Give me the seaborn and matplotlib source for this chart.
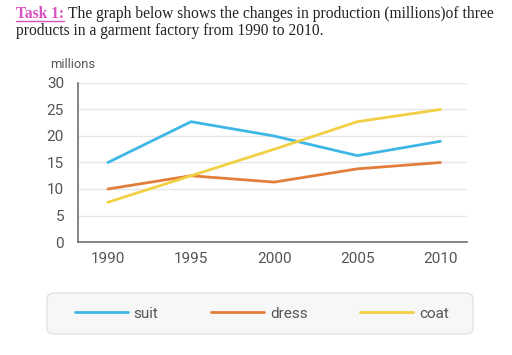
import matplotlib
matplotlib.use("Agg")
import matplotlib.pyplot as plt
import seaborn as sns
import pandas as pd
from matplotlib.lines import Line2D
from matplotlib.patches import FancyBboxPatch

years = [1990, 1995, 2000, 2005, 2010]
suit = [15, 22.7, 20, 16.3, 19]
dress = [10, 12.5, 11.3, 13.8, 15]
coat = [7.5, 12.5, 17.5, 22.7, 25]
series_names = ["suit", "dress", "coat"]
colors = ["#3fb7e6", "#e37d3a", "#f2d043"]
yticks = [0, 5, 10, 15, 20, 25, 30]

df = pd.DataFrame({
    "year": years * 3,
    "value": suit + dress + coat,
    "product": ["suit"] * 5 + ["dress"] * 5 + ["coat"] * 5,
})

sns.set_theme(style="white")
plt.rcParams["font.family"] = ["Roboto", "DejaVu Sans"]

W, H = 512, 355
fig = plt.figure(figsize=(W / 100, H / 100), dpi=100)
ax = fig.add_axes([78 / W, 1 - 242 / H, (467 - 78) / W, (242 - 83) / H])

sns.lineplot(data=df, x="year", y="value", hue="product", hue_order=series_names,
             palette=colors, linewidth=2, ax=ax, legend=False)

ax.set_xlim(1988.2, 2011.6)
ax.set_ylim(0, 30)
ax.set_xticks(years)
ax.set_yticks(yticks)
ax.set_xticklabels([str(y) for y in years])
ax.set_xlabel("")
ax.set_ylabel("")
ax.grid(axis="y", color="#e6e6e6", linewidth=1)
ax.set_axisbelow(True)
for s in ["top", "right"]:
    ax.spines[s].set_visible(False)
for s in ["left", "bottom"]:
    ax.spines[s].set_color("#707070")
    ax.spines[s].set_linewidth(1.2)
ax.tick_params(axis="both", length=0, labelsize=11, labelcolor="#555555")
ax.tick_params(axis="x", pad=7)
ax.tick_params(axis="y", pad=10)

fig.text(50 / W, 1 - 64 / H, "millions", fontsize=9.3, color="#555555", va="center", ha="left")

# Legend frame
fig.add_artist(FancyBboxPatch((47 / W, 1 - 334 / H), 426 / W, 41 / H,
                              boxstyle="round,pad=0,rounding_size=0.015",
                              transform=fig.transFigure, facecolor="#f7f7f7",
                              edgecolor="#dddddd", linewidth=0.8, zorder=0))
handles = [Line2D([0], [0], color=c, linewidth=2) for c in colors]
leg = fig.legend(handles, series_names, loc="center", ncol=3,
                 bbox_to_anchor=(262 / W, 1 - 313.5 / H),
                 frameon=False, handlelength=3.45, handletextpad=0.4,
                 columnspacing=3.45, fontsize=11, labelcolor="#555555")

# Title
serif = ["Liberation Serif", "DejaVu Serif"]
fs = 11.2
t1 = fig.text(16 / W, 1 - 14 / H, "Task 1:", fontsize=fs, fontweight="bold",
              color="#d94fc0", family=serif, va="center", ha="left")
fig.canvas.draw()
r = fig.canvas.get_renderer()
bb = t1.get_window_extent(r)
x_end = bb.x1 / W
fig.add_artist(Line2D([bb.x0 / W, x_end], [(bb.y0 + 1) / H] * 2, color="#d94fc0", linewidth=1))
fig.text(x_end + 4 / W, 1 - 14 / H, "The graph below shows the changes in production (millions)of three",
         fontsize=fs, color="#222222", family=serif, va="center", ha="left")
fig.text(16 / W, 1 - 31 / H, "products in a garment factory from 1990 to 2010.",
         fontsize=fs, color="#222222", family=serif, va="center", ha="left")

fig.savefig("out.png", dpi=100, facecolor="white")
